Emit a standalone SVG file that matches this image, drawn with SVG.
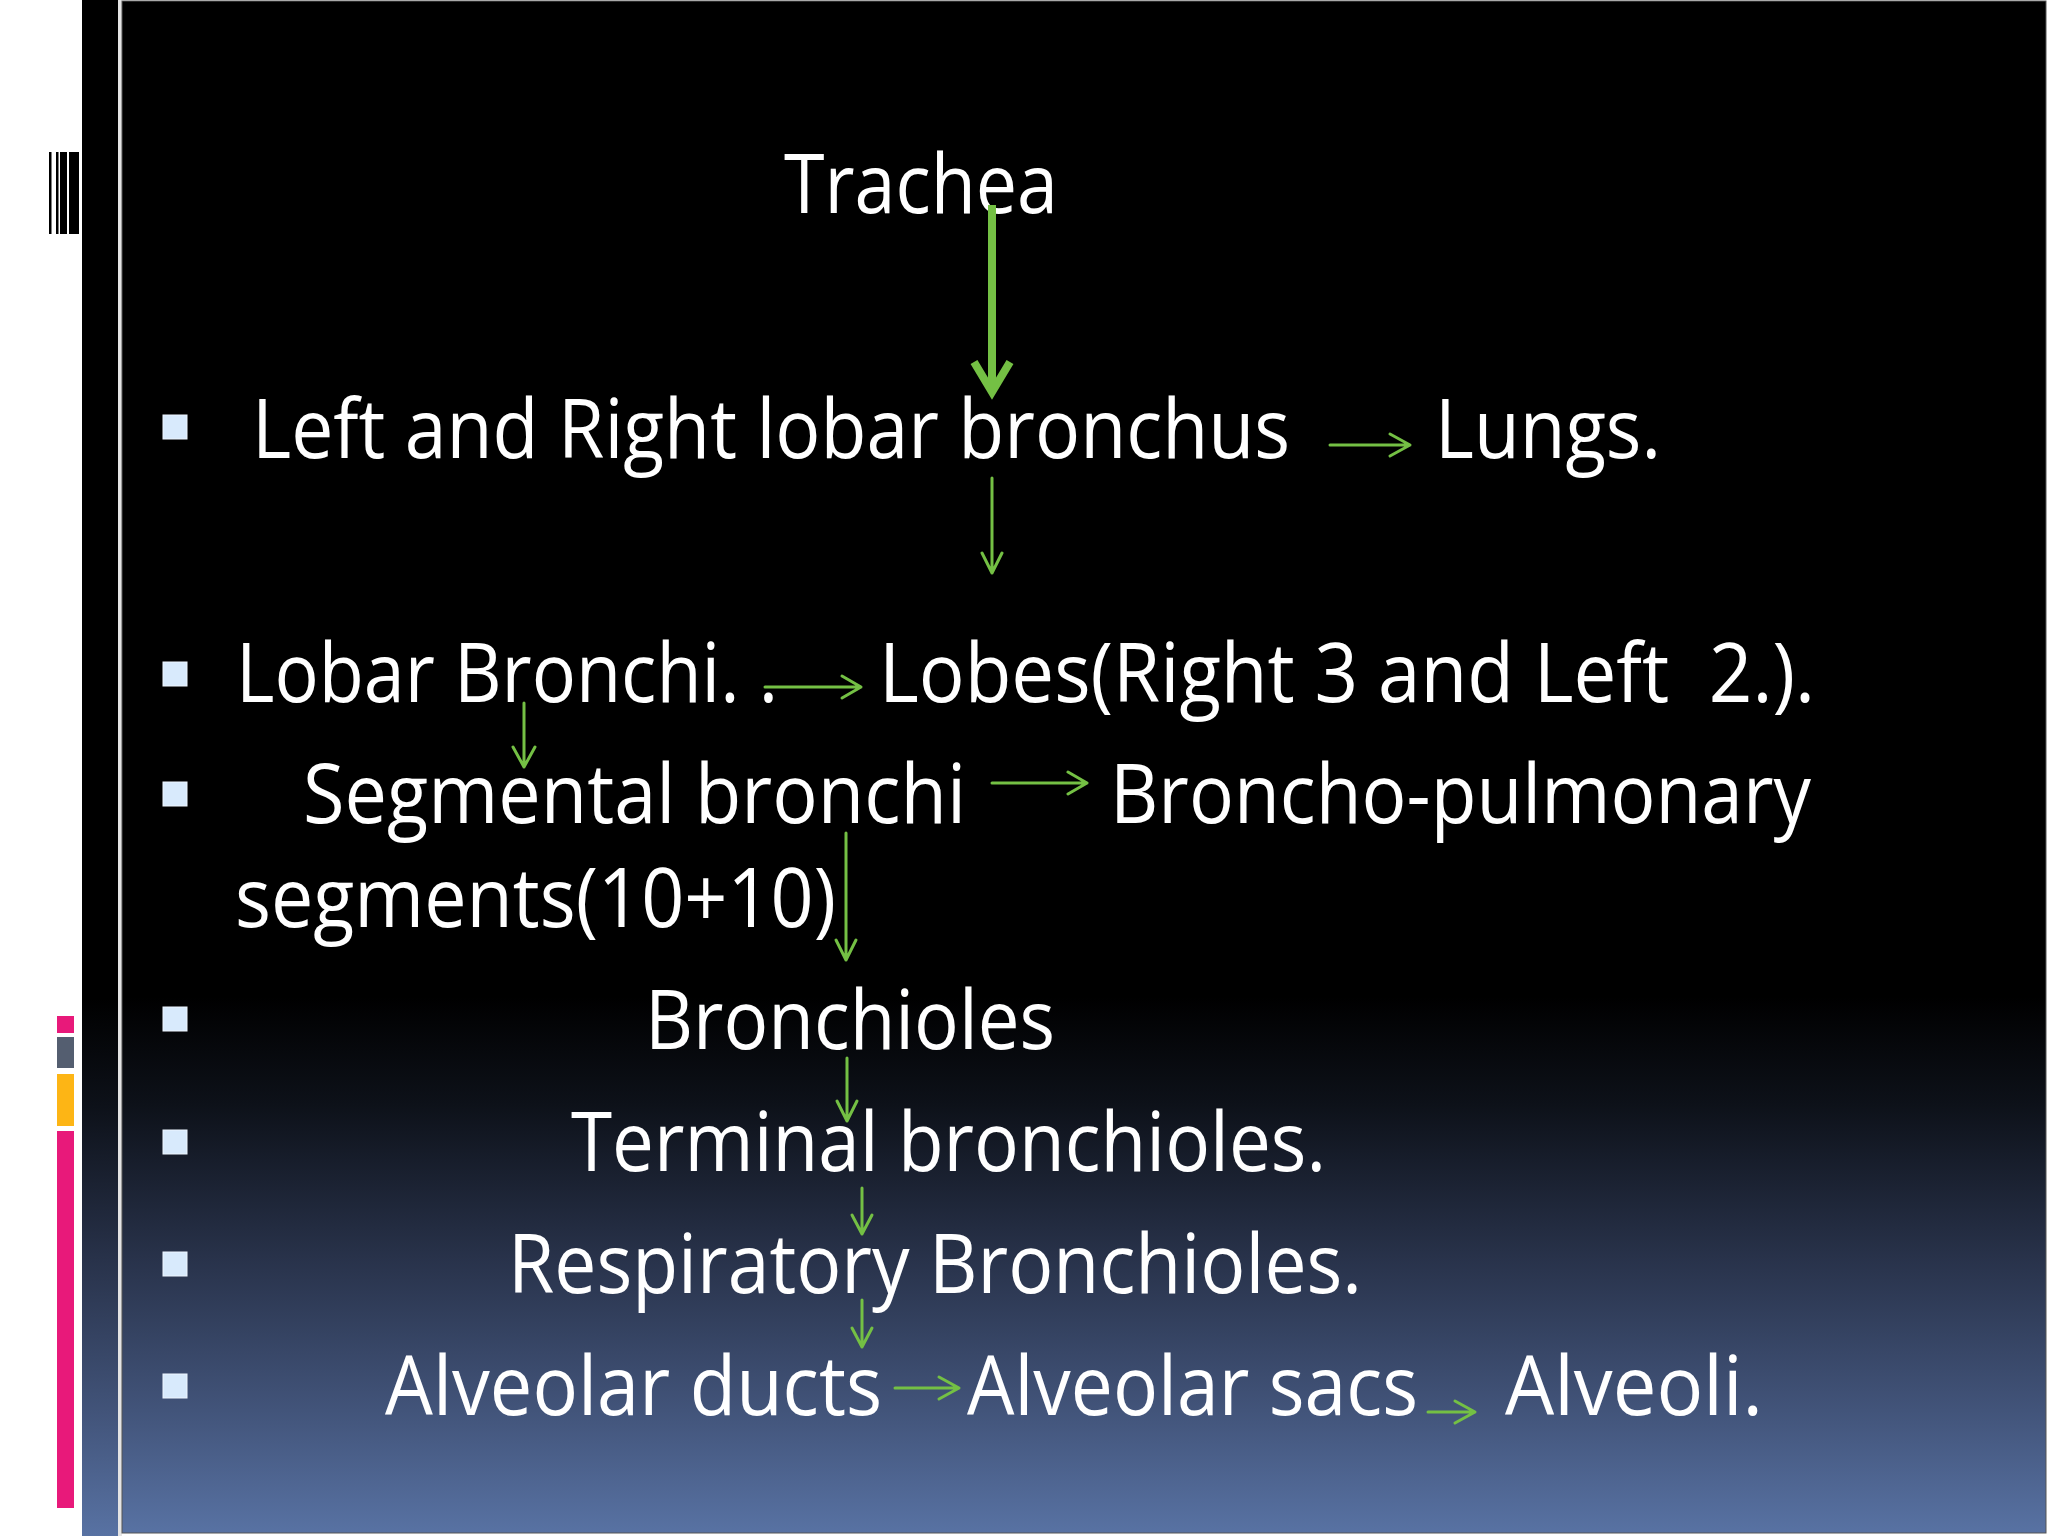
<svg xmlns="http://www.w3.org/2000/svg" width="2048" height="1536" viewBox="0 0 2048 1536">
<defs>
<linearGradient id="bg" x1="0" y1="0" x2="0" y2="1">
<stop offset="0" stop-color="#000"/>
<stop offset="0.65" stop-color="#000"/>
<stop offset="0.72" stop-color="#0d1119"/>
<stop offset="0.82" stop-color="#28324a"/>
<stop offset="0.92" stop-color="#42547a"/>
<stop offset="1" stop-color="#5872a3"/>
</linearGradient>
<style>
.t{font-family:"Open Sans","Liberation Sans",sans-serif;font-size:82px;fill:#fff;}
.b{fill:#d8eafc;stroke:#eef6ff;stroke-width:1;}
.a{fill:none;stroke:#74c044;stroke-width:3;stroke-linecap:round;stroke-linejoin:round;}
.A{fill:none;stroke:#74c044;stroke-width:8;stroke-linecap:butt;stroke-linejoin:miter;}
</style>
</defs>
<rect width="2048" height="1536" fill="#fff"/>
<rect x="82" y="0" width="36" height="1536" fill="url(#bg)"/>
<rect x="118" y="0" width="4" height="1536" fill="#e4e4e4"/>
<rect x="122" y="1" width="1924" height="1532" fill="url(#bg)" stroke="#555" stroke-width="1"/>
<g id="deco">
<rect x="49" y="152" width="2.5" height="82" fill="#000"/>
<rect x="56" y="152" width="2.5" height="82" fill="#000"/>
<rect x="60" y="152" width="7" height="82" fill="#000"/>
<rect x="69" y="152" width="10" height="82" fill="#000"/>
<rect x="57" y="1016" width="17" height="17" fill="#e8197a"/>
<rect x="57" y="1037" width="17" height="31" fill="#545e70"/>
<rect x="57" y="1074" width="17" height="52" fill="#fdb515"/>
<rect x="57" y="1131" width="17" height="377" fill="#e8197a"/>
</g>
<g id="bullets">
<rect class="b" x="163" y="415" width="24" height="24"/>
<rect class="b" x="163" y="662" width="24" height="24"/>
<rect class="b" x="163" y="782" width="24" height="24"/>
<rect class="b" x="163" y="1007" width="24" height="24"/>
<rect class="b" x="163" y="1130" width="24" height="24"/>
<rect class="b" x="163" y="1252" width="24" height="24"/>
<rect class="b" x="163" y="1374" width="24" height="24"/>
</g>
<g id="n-trachea"><text class="t" x="784" y="213" textLength="274" lengthAdjust="spacingAndGlyphs">Trachea</text></g>
<g id="n-lobar-bronchus"><text class="t" x="252" y="458" textLength="1038" lengthAdjust="spacingAndGlyphs">Left and Right lobar bronchus</text></g>
<g id="n-lungs"><text class="t" x="1435" y="458" textLength="226" lengthAdjust="spacingAndGlyphs">Lungs.</text></g>
<g id="n-lobar-bronchi"><text class="t" x="236" y="702" textLength="542" lengthAdjust="spacingAndGlyphs">Lobar Bronchi. .</text></g>
<g id="n-lobes"><text class="t" x="879" y="702" textLength="936" lengthAdjust="spacingAndGlyphs" xml:space="preserve">Lobes(Right 3 and Left  2.).</text></g>
<g id="n-segmental"><text class="t" x="303" y="823" textLength="663" lengthAdjust="spacingAndGlyphs">Segmental bronchi</text></g>
<g id="n-bp-segments"><text class="t" x="1110" y="823" textLength="701" lengthAdjust="spacingAndGlyphs">Broncho-pulmonary</text><text class="t" x="235" y="927" textLength="601" lengthAdjust="spacingAndGlyphs">segments(10+10)</text></g>
<g id="n-bronchioles"><text class="t" x="645" y="1049" textLength="410" lengthAdjust="spacingAndGlyphs">Bronchioles</text></g>
<g id="n-terminal"><text class="t" x="571" y="1171" textLength="755" lengthAdjust="spacingAndGlyphs">Terminal bronchioles.</text></g>
<g id="n-respiratory"><text class="t" x="508" y="1293" textLength="854" lengthAdjust="spacingAndGlyphs">Respiratory Bronchioles.</text></g>
<g id="n-ducts"><text class="t" x="385" y="1415" textLength="497" lengthAdjust="spacingAndGlyphs">Alveolar ducts</text></g>
<g id="n-sacs"><text class="t" x="967" y="1415" textLength="451" lengthAdjust="spacingAndGlyphs">Alveolar sacs</text></g>
<g id="n-alveoli"><text class="t" x="1505" y="1415" textLength="258" lengthAdjust="spacingAndGlyphs">Alveoli.</text></g>
<g id="connectors">
<path class="A" d="M992 205V392M974 362L992 392L1010 362"/>
<path class="a" d="M1330 445H1410M1390 434L1410 445L1390 456"/>
<path class="a" d="M992 478V573M982 553L992 573L1002 553"/>
<path class="a" d="M765 687H861M842 676L861 687L842 698"/>
<path class="a" d="M524 703V767M513 747L524 767L535 747"/>
<path class="a" d="M992 783H1087M1068 772L1087 783L1068 794"/>
<path class="a" d="M846 833V960M836 940L846 960L856 940"/>
<path class="a" d="M847 1058V1121M837 1101L847 1121L857 1101"/>
<path class="a" d="M862 1188V1234M852 1215L862 1234L872 1215"/>
<path class="a" d="M862 1300V1347M852 1328L862 1347L872 1328"/>
<path class="a" d="M895 1388H959M939 1377L959 1388L939 1399"/>
<path class="a" d="M1428 1412H1475M1455 1401L1475 1412L1455 1423"/>
</g>
</svg>
